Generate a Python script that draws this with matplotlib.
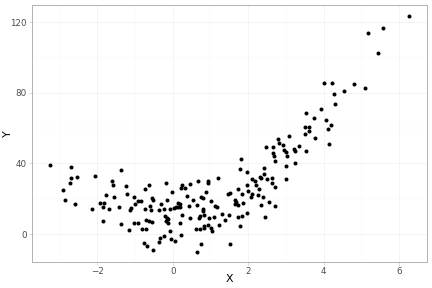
import matplotlib as mpl
mpl.use('Agg')
import matplotlib.pyplot as plt
import numpy as np

# points
x_vals = [-3.26, -2.70, -2.69, -2.54, -2.72, -2.90, -2.86, -2.59, -2.07, -2.14,
          -1.92, -1.81, -1.84, -1.76, -1.68, -1.85, -1.61, -1.59, -1.55, -1.38,
          -1.43, -1.25, -1.21, -1.38, -1.16, -1.13, -1.10, -1.01, -1.02, -1.02,
          -0.93, -0.91, -0.84, -0.82, -0.71, -0.74, -0.74, -0.72, -0.77, -0.68,
          -0.64, -0.62, -0.59, -0.55, -0.51, -0.57, -0.54, -0.52, -0.36, -0.34,
          -0.37, -0.32, -0.19, -0.22, -0.20, -0.22, -0.16, -0.18, -0.14, -0.12,
          -0.08, -0.03, -0.13, -0.08, -0.04, 0.06, 0.03, 0.08, 0.14, 0.14,
          0.19, 0.20, 0.18, 0.24, 0.23, 0.21, 0.25, 0.33, 0.39, 0.44,
          0.46, 0.47, 0.55, 0.62, 0.68, 0.65, 0.63, 0.72, 0.75, 0.70,
          0.73, 0.76, 0.81, 0.79, 0.81, 0.82, 0.84, 0.84, 0.87, 0.93,
          0.94, 0.94, 0.97, 1.01, 1.01, 1.05, 1.10, 1.12, 1.19, 1.17,
          1.22, 1.30, 1.39, 1.48, 1.47, 1.52, 1.52, 1.64, 1.66, 1.67,
          1.72, 1.73, 1.73, 1.77, 1.78, 1.80, 1.83, 1.83, 1.85, 1.96,
          1.96, 1.97, 1.99, 2.06, 2.10, 2.09, 2.19, 2.20, 2.27, 2.28,
          2.30, 2.35, 2.34, 2.38, 2.42, 2.43, 2.45, 2.47, 2.51, 2.54,
          2.63, 2.62, 2.65, 2.66, 2.67, 2.70, 2.70, 2.72, 2.91, 2.96,
          2.99, 3.03, 3.01, 3.00, 3.21, 3.23, 3.24, 3.35, 3.54, 4.13,
          6.26, 5.56, 5.17, 5.43, 4.00, 4.21, 4.81, 4.54, 5.09, 4.27,
          4.31, 3.92, 3.52, 3.73, 4.06, 4.19, 4.11, 3.51, 3.61, 3.62,
          3.50, 3.07, 3.78, 2.80, 2.82]
y_vals = [39.0, 38.1, 31.7, 32.1, 28.9, 24.9, 19.2, 17.2, 33.0, 14.0,
          17.4, 17.4, 15.1, 21.9, 14.0, 7.4, 30.2, 27.9, 21.1, 36.2,
          15.3, 27.0, 22.5, 5.7, 2.3, 13.8, 14.7, 16.8, 20.8, 6.2,
          6.4, 18.5, 18.9, 2.8, 3.0, 14.1, 25.3, 7.9, -5.1, -6.6,
          7.4, 27.9, 16.2, 20.4, 19.6, 13.8, 7.0, -8.7, -4.5, -2.3,
          13.4, 16.8, 29.1, 14.3, 10.4, -0.9, 9.1, 7.5, 19.2, 8.5,
          1.9, 23.6, 6.2, 14.5, -2.8, -4.0, 14.9, 15.3, 15.5, 17.4,
          17.0, 15.1, 6.2, 10.6, -0.2, 26.2, 27.7, 26.2, 21.5, 16.2,
          28.3, 9.2, 19.6, 2.8, 29.8, 16.4, -10.0, 2.7, -5.3, 9.2,
          10.4, 21.1, 20.4, 14.0, 13.0, 10.9, 4.5, 3.4, 23.6, 29.8,
          28.9, 5.1, 9.1, 18.7, 3.6, 1.9, 9.8, 15.8, 31.9, 15.1,
          5.3, 11.5, 7.9, 10.9, 22.5, 23.4, -5.3, 19.4, 17.0, 18.1,
          25.3, 16.4, 9.5, 4.5, 37.0, 42.3, 22.6, 10.4, 17.4, 11.9,
          27.6, 34.9, 24.7, 21.1, 22.6, 31.3, 29.8, 27.9, 21.9, 25.6,
          32.1, 31.5, 16.6, 21.1, 37.7, 34.1, 9.5, 49.6, 31.3, 18.3,
          31.9, 29.0, 49.6, 46.0, 44.3, 41.3, 26.8, 15.7, 50.4, 47.7,
          46.6, 44.5, 38.3, 31.1, 48.3, 47.1, 40.2, 50.0, 47.0, 50.8,
          123.4, 116.4, 113.9, 102.6, 85.5, 85.8, 85.1, 81.1, 82.6, 79.4,
          73.6, 70.7, 68.7, 65.8, 64.5, 61.7, 59.6, 60.7, 60.4, 58.3,
          56.4, 55.3, 54.3, 53.9, 51.7]

x_ticks = [-2, 0, 2, 4, 6]
y_ticks = [0, 40, 80, 120]

fig = plt.figure(figsize=(6, 4), dpi=72)
ax = fig.add_axes([0.073, 0.090, 0.915, 0.894])

ax.scatter(x_vals, y_vals, s=16, color='black', linewidths=0, zorder=3)

ax.set_xlim(-3.74, 6.73)
ax.set_ylim(-15.8, 129.9)
ax.set_xticks(x_ticks)
ax.set_yticks(y_ticks)
ax.set_xticks([-3, -1, 1, 3, 5], minor=True)
ax.set_yticks([20, 60, 100], minor=True)

ax.grid(which='major', color='#ebebeb', linewidth=0.55)
ax.grid(which='minor', color='#f4f4f4', linewidth=0.3)
ax.set_axisbelow(True)

for s in ax.spines.values():
    s.set_color('#b3b3b3')
    s.set_linewidth(1.0)

ax.tick_params(which='major', length=2.75, width=0.5, color='#b3b3b3',
               labelsize=8.8, labelcolor='#4d4d4d', pad=2.2)
ax.tick_params(which='minor', length=0)

ax.set_xlabel('X', fontsize=11, color='black')
ax.set_ylabel('Y', fontsize=11, color='black')
ax.xaxis.set_label_coords(0.5, -0.047)
ax.yaxis.set_label_coords(-0.048, 0.5)

fig.savefig('out.png', dpi=72, facecolor='white')
